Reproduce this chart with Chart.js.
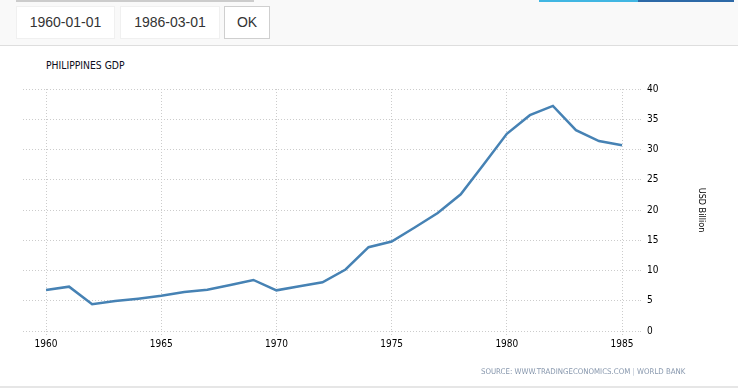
<!DOCTYPE html>
<html>
<head>
<meta charset="utf-8">
<script src="https://cdn.jsdelivr.net/npm/chart.js@4"></script>
<style>
  html, body { margin:0; padding:0; width:738px; height:388px; overflow:hidden; background:#fff; }
  #top { position:absolute; left:0; top:0; width:738px; height:45px; background:#f9f9f9; border-bottom:1px solid #dedede; }
  .bar { position:absolute; top:0; height:2px; }
  .box { position:absolute; top:6px; height:33px; box-sizing:border-box; background:#fff; border:1px solid #f0f0f0;
         font-family:"Liberation Sans", Arial, sans-serif; font-size:14px; color:#333; line-height:31px; text-align:center; }
  #ok { border:1px solid #cfcfcf; }
  #wrap { position:absolute; left:0; top:47px; width:738px; height:340px; }
  #title { position:absolute; left:46px; top:59px; font-family:"DejaVu Sans Condensed","DejaVu Sans",sans-serif; font-size:10.3px; color:#0d0d20; white-space:nowrap; }
  #source { position:absolute; left:481px; top:367px; font-family:"DejaVu Sans Condensed","DejaVu Sans",sans-serif; font-size:7.8px; color:#8797ad; white-space:nowrap; }
  #bottom { position:absolute; left:0; top:386px; width:738px; height:2px; background:#e6e6e6; }
</style>
</head>
<body>
<div id="top">
  <div class="bar" style="left:16px;width:238px;background:#cccccc;height:2px;"></div>
  <div class="bar" style="left:539px;width:99px;background:#41b6e2;"></div>
  <div class="bar" style="left:638px;width:96px;background:#2d69a7;"></div>
  <div class="box" style="left:16px;width:99px;">1960-01-01</div>
  <div class="box" style="left:120px;width:100px;">1986-03-01</div>
  <div class="box" id="ok" style="left:224px;width:46px;">OK</div>
</div>
<div id="title">PHILIPPINES GDP</div>
<div id="wrap"><canvas id="c" width="738" height="339"></canvas></div>
<div id="source">SOURCE: WWW.TRADINGECONOMICS.COM <span style="color:#b8c2d0">|</span> WORLD BANK</div>
<div id="bottom"></div>
<script>
const years = [1960,1961,1962,1963,1964,1965,1966,1967,1968,1969,1970,1971,1972,1973,1974,1975,1976,1977,1978,1979,1980,1981,1982,1983,1984,1985];
const gdp = [6.78,7.33,4.44,4.95,5.35,5.83,6.44,6.83,7.6,8.44,6.72,7.4,8.06,10.17,13.85,14.8,17.1,19.5,22.6,27.55,32.6,35.67,37.2,33.2,31.4,30.7];
const xTicks = [1960,1965,1970,1975,1980,1985];
const yTicks = [0,5,10,15,20,25,30,35,40];

const tickFont = { family: "'DejaVu Sans Condensed','DejaVu Sans',sans-serif", size: 10 };
const gridColor = '#cccccc';

new Chart(document.getElementById('c'), {
  type: 'line',
  data: {
    datasets: [{
      data: years.map((y, i) => ({ x: y, y: gdp[i] })),
      borderColor: '#4682b4',
      borderWidth: 2.5,
      pointRadius: 0,
      tension: 0,
      fill: false
    }]
  },
  options: {
    responsive: false,
    animation: false,
    layout: { padding: { top: 42, left: 23, right: 0, bottom: 0 } },
    plugins: { legend: { display: false }, tooltip: { enabled: false } },
    scales: {
      x: {
        type: 'linear',
        min: 1959,
        max: 1985.78,
        afterBuildTicks: ax => { ax.ticks = xTicks.map(v => ({ value: v })); },
        afterFit: ax => { ax.height = 55; },
        ticks: { font: tickFont, color: '#000', padding: 1, maxRotation: 0, autoSkip: false,
                 callback: v => String(v) },
        grid: { color: gridColor, lineWidth: 1, drawTicks: true, tickLength: 6, tickColor: gridColor,
                tickBorderDash: [1, 2] },
        border: { display: false, dash: [1, 2] }
      },
      y: {
        position: 'right',
        min: 0,
        max: 40,
        afterBuildTicks: ax => { ax.ticks = yTicks.map(v => ({ value: v })); },
        afterFit: ax => { ax.width = 98; },
        ticks: { font: tickFont, color: '#000', padding: 4 },
        grid: { color: gridColor, lineWidth: 1, drawTicks: true, tickLength: 3, tickColor: gridColor,
                tickBorderDash: [1, 2] },
        border: { display: false, dash: [1, 2] },
        title: { display: true, text: 'USD Billion', color: '#000',
                 font: { family: "'DejaVu Sans Condensed','DejaVu Sans',sans-serif", size: 9 },
                 padding: { top: 31, bottom: 0 } }
      }
    }
  }
});
</script>
</body>
</html>
